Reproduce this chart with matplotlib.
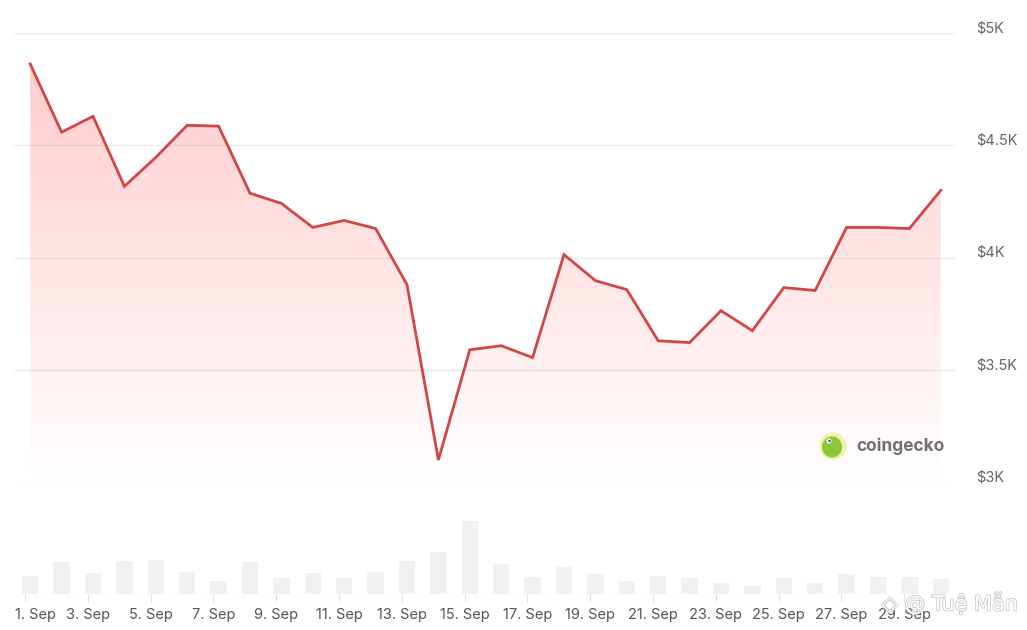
import numpy as np
import matplotlib
matplotlib.use("Agg")
import matplotlib.pyplot as plt
from matplotlib.transforms import ScaledTranslation
from matplotlib.patches import Polygon, Ellipse
import matplotlib.patheffects as pe

# ---- data ----
days = list(range(1, 31))
prices = [4862, 4558, 4629, 4317, 4446, 4589, 4585, 4286, 4241, 4134,
          4165, 4129, 3879, 3098, 3589, 3607, 3554, 4013, 3897, 3857,
          3629, 3621, 3763, 3674, 3866, 3853, 4134, 4134, 4129, 4299]
volumes = [18, 32, 21, 33, 34, 22, 13, 32, 16, 21,
           16, 22, 33, 42, 73, 30, 17, 27, 20, 13,
           18, 16, 11, 8, 16, 11, 20, 17, 17, 15]
tick_days = list(range(1, 30, 2))
tick_labels = [f"{d}. Sep" for d in tick_days]
price_ticks = [3000, 3500, 4000, 4500, 5000]
price_labels = ["$3K", "$3.5K", "$4K", "$4.5K", "$5K"]

hour_offset = 4 / 24.0
x = np.array(days, dtype=float) + hour_offset
y = np.array(prices, dtype=float)

plt.rcParams['font.family'] = ['Inter', 'DejaVu Sans']

W, H = 1027, 630
fig = plt.figure(figsize=(W / 100, H / 100), dpi=100)
fig.patch.set_facecolor("white")

xl = (0.65, 30.62)
# price axes
ax = fig.add_axes([14 / W, (H - 482) / H, 941 / W, 449 / H])
ax.set_facecolor("none")
for s in ax.spines.values():
    s.set_visible(False)
ax.set_xticks([])
ax.set_yticks(price_ticks)
ax.set_yticklabels(price_labels)
ax.yaxis.tick_right()
ax.tick_params(axis="y", length=0, pad=15, labelsize=10.5, labelcolor="#666666")
for lab in ax.get_yticklabels():
    lab.set_transform(lab.get_transform() + ScaledTranslation(0, 6 / 100, fig.dpi_scale_trans))
ax.yaxis.grid(True, color="#ececec", linewidth=0.9)
ax.set_axisbelow(True)

# gradient fill under the line
ymin_fill = 3000
grad = np.linspace(1, 0, 256)
rgba = np.zeros((256, 1, 4))
rgba[:, 0, 0] = 1.0
rgba[:, 0, 1] = 0.30
rgba[:, 0, 2] = 0.30
rgba[:, 0, 3] = 0.28 * grad
img = ax.imshow(rgba, aspect="auto", extent=[x[0], x[-1], ymin_fill, y.max()],
                origin="upper", zorder=1, interpolation="bicubic")
verts = np.vstack([np.column_stack([x, y]), [[x[-1], ymin_fill], [x[0], ymin_fill]]])
poly = Polygon(verts, closed=True, facecolor="none", edgecolor="none")
ax.add_patch(poly)
img.set_clip_path(poly)
ax.set_xlim(*xl)
ax.set_ylim(3000, 5000)
ax.plot(x, y, color="#d24646", linewidth=2.0, zorder=3, solid_joinstyle="miter")

# volume axes
axv = fig.add_axes([14 / W, (H - 594) / H, 941 / W, 114 / H])
axv.set_xlim(*xl)
axv.set_ylim(0, 114)
axv.set_facecolor("none")
for s in axv.spines.values():
    s.set_visible(False)
axv.bar(x, volumes, width=0.52, color="#f0f1f3", zorder=1)
axv.axhline(0, color="#ececec", linewidth=0.8, zorder=0)
axv.set_yticks([])
axv.set_xticks(tick_days)
axv.set_xticklabels(tick_labels)
axv.tick_params(axis="x", length=6, width=0.8, color="#e0e0e0", pad=4,
                labelsize=10.5, labelcolor="#555555")
first = axv.get_xticklabels()[0]
first.set_transform(first.get_transform() + ScaledTranslation(10 / 100, 0, fig.dpi_scale_trans))

# coingecko logo
fig.patches.append(Ellipse((833 / W, (H - 446) / H), 27 / W, 27 / H, transform=fig.transFigure,
                           facecolor="#f3efa6", edgecolor="none"))
fig.patches.append(Ellipse((832 / W, (H - 447) / H), 20 / W, 21 / H, transform=fig.transFigure,
                           facecolor="#8dc63f", edgecolor="none"))
fig.patches.append(Ellipse((829 / W, (H - 441) / H), 5 / W, 5 / H, transform=fig.transFigure,
                           facecolor="white", edgecolor="none"))
fig.patches.append(Ellipse((829.5 / W, (H - 441) / H), 2.5 / W, 2.5 / H, transform=fig.transFigure,
                           facecolor="#5a4a8a", edgecolor="none"))
fig.text(856 / W, (H - 446) / H, "coingecko", fontsize=12.5, fontweight="bold",
         color="#707070", ha="left", va="center")

# watermark
t = fig.text(1018 / W, (H - 603) / H, "\u25c8 @ Tuệ Mẫn", fontsize=15, color="white",
             ha="right", va="center", family=["DejaVu Sans"])
t.set_path_effects([pe.withStroke(linewidth=1.2, foreground="#c8c8c8")])

fig.savefig("out.png", dpi=100, facecolor="white")
